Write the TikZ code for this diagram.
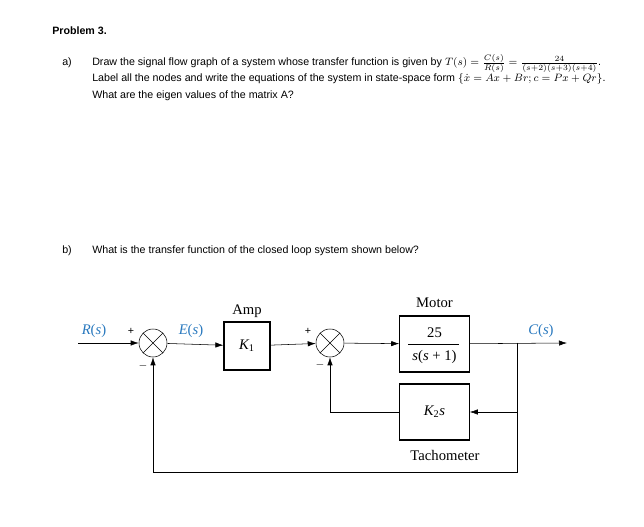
\documentclass[tikz,border=0pt]{standalone}
\usepackage{fontspec}
\setmainfont{Liberation Sans}
\newfontfamily\tms{Liberation Serif}
\usetikzlibrary{arrows.meta}
\definecolor{lbl}{RGB}{40,120,190}
\newcommand{\iv}[1]{{\itshape #1}}
\begin{document}
\begin{tikzpicture}[x=0.75pt,y=-0.75pt,
  txt/.style={anchor=base west,inner sep=0,font=\fontsize{8}{10}\selectfont},
  blk/.style={draw,line width=0.9pt,inner sep=0,font=\tms\fontsize{11}{13}\selectfont},
  sum/.style={draw,circle,minimum size=21pt,inner sep=0,path picture={\draw (path picture bounding box.north west)--(path picture bounding box.south east) (path picture bounding box.north east)--(path picture bounding box.south west);}},
  dl/.style={font=\tms\fontsize{11}{13}\selectfont},
  sig/.style={font=\tms\fontsize{11}{13}\selectfont,text=lbl},
  ar/.style={-{Latex[length=6pt,width=4pt]}},
  sg/.style={font=\fontsize{8}{8}\selectfont}]
\useasboundingbox (0,0) rectangle (644,527);
\node[txt,font=\bfseries\fontsize{8}{10}\selectfont] (p) at (52,35) {Problem 3.};
\node[txt] (a) at (62,66) {a)};
\node[txt] (a1) at (92,66) {Draw the signal flow graph of a system whose transfer function is given by $T(s)=\frac{C(s)}{R(s)}=\frac{24}{(s+2)(s+3)(s+4)}$.};
\node[txt] (a2) at (92,82) {Label all the nodes and write the equations of the system in state-space form $\{\dot x=Ax+Br; c=Px+Qr\}$.};
\node[txt] (a3) at (92,99) {What are the eigen values of the matrix A?};
\node[txt] (b) at (62,254) {b)};
\node[txt] (b1) at (92,254) {What is the transfer function of the closed loop system shown below?};

\node[sum] (s1) at (153,343) {};
\node[sum] (s2) at (330,343) {};
\node[blk,minimum width=34.5pt,minimum height=36pt] (amp) at (247,346) {\iv{K}\textsubscript{1}};
\node[blk,minimum width=52pt,minimum height=42pt] (mot) at (434.5,344) {};
\node[dl] (num) at (434.5,333) {25};
\draw (mot.west)++(9,0) -- ++(51,0);
\node[dl] (den) at (434.5,357) {\iv{s}(\iv{s} + 1)};
\node[blk,minimum width=52pt,minimum height=42pt] (tach) at (434.5,412) {\iv{K}\textsubscript{2}\iv{s}};
\node[dl] (lamp) at (247,311) {Amp};
\node[dl] (lmot) at (434.5,303) {Motor};
\node[dl] (ltach) at (445,455) {Tachometer};
\node[sig] (lr) at (94,331) {\iv{R}(\iv{s})};
\node[sig] (le) at (191,331) {\iv{E}(\iv{s})};
\node[sig] (lc) at (541,331) {\iv{C}(\iv{s})};
\node[sg] at (131,331) {+};
\node[sg] at (143,366) {$-$};
\node[sg] at (308,331) {+};
\node[sg] at (320,365) {$-$};
\coordinate (in) at (78,343);
\coordinate (out) at (567,343);
\coordinate (tk) at (517,343);
\coordinate (tb) at (517,472);
\coordinate (bl) at (153,472);
\coordinate (tt) at (517,412);
\coordinate (t2) at (330,412);
\draw[ar] (in) -- (s1);
\draw[ar] (s1) -- (amp);
\draw[ar] (amp) -- (s2);
\draw[ar] (s2) -- (mot);
\draw[ar] (mot) -- (out);
\draw[ar] (tk) -- (tb) -- (bl) -- (s1);
\draw[ar] (tk) -- (tt) -- (tach);
\draw[ar] (tach) -- (t2) -- (s2);
\end{tikzpicture}
\end{document}
